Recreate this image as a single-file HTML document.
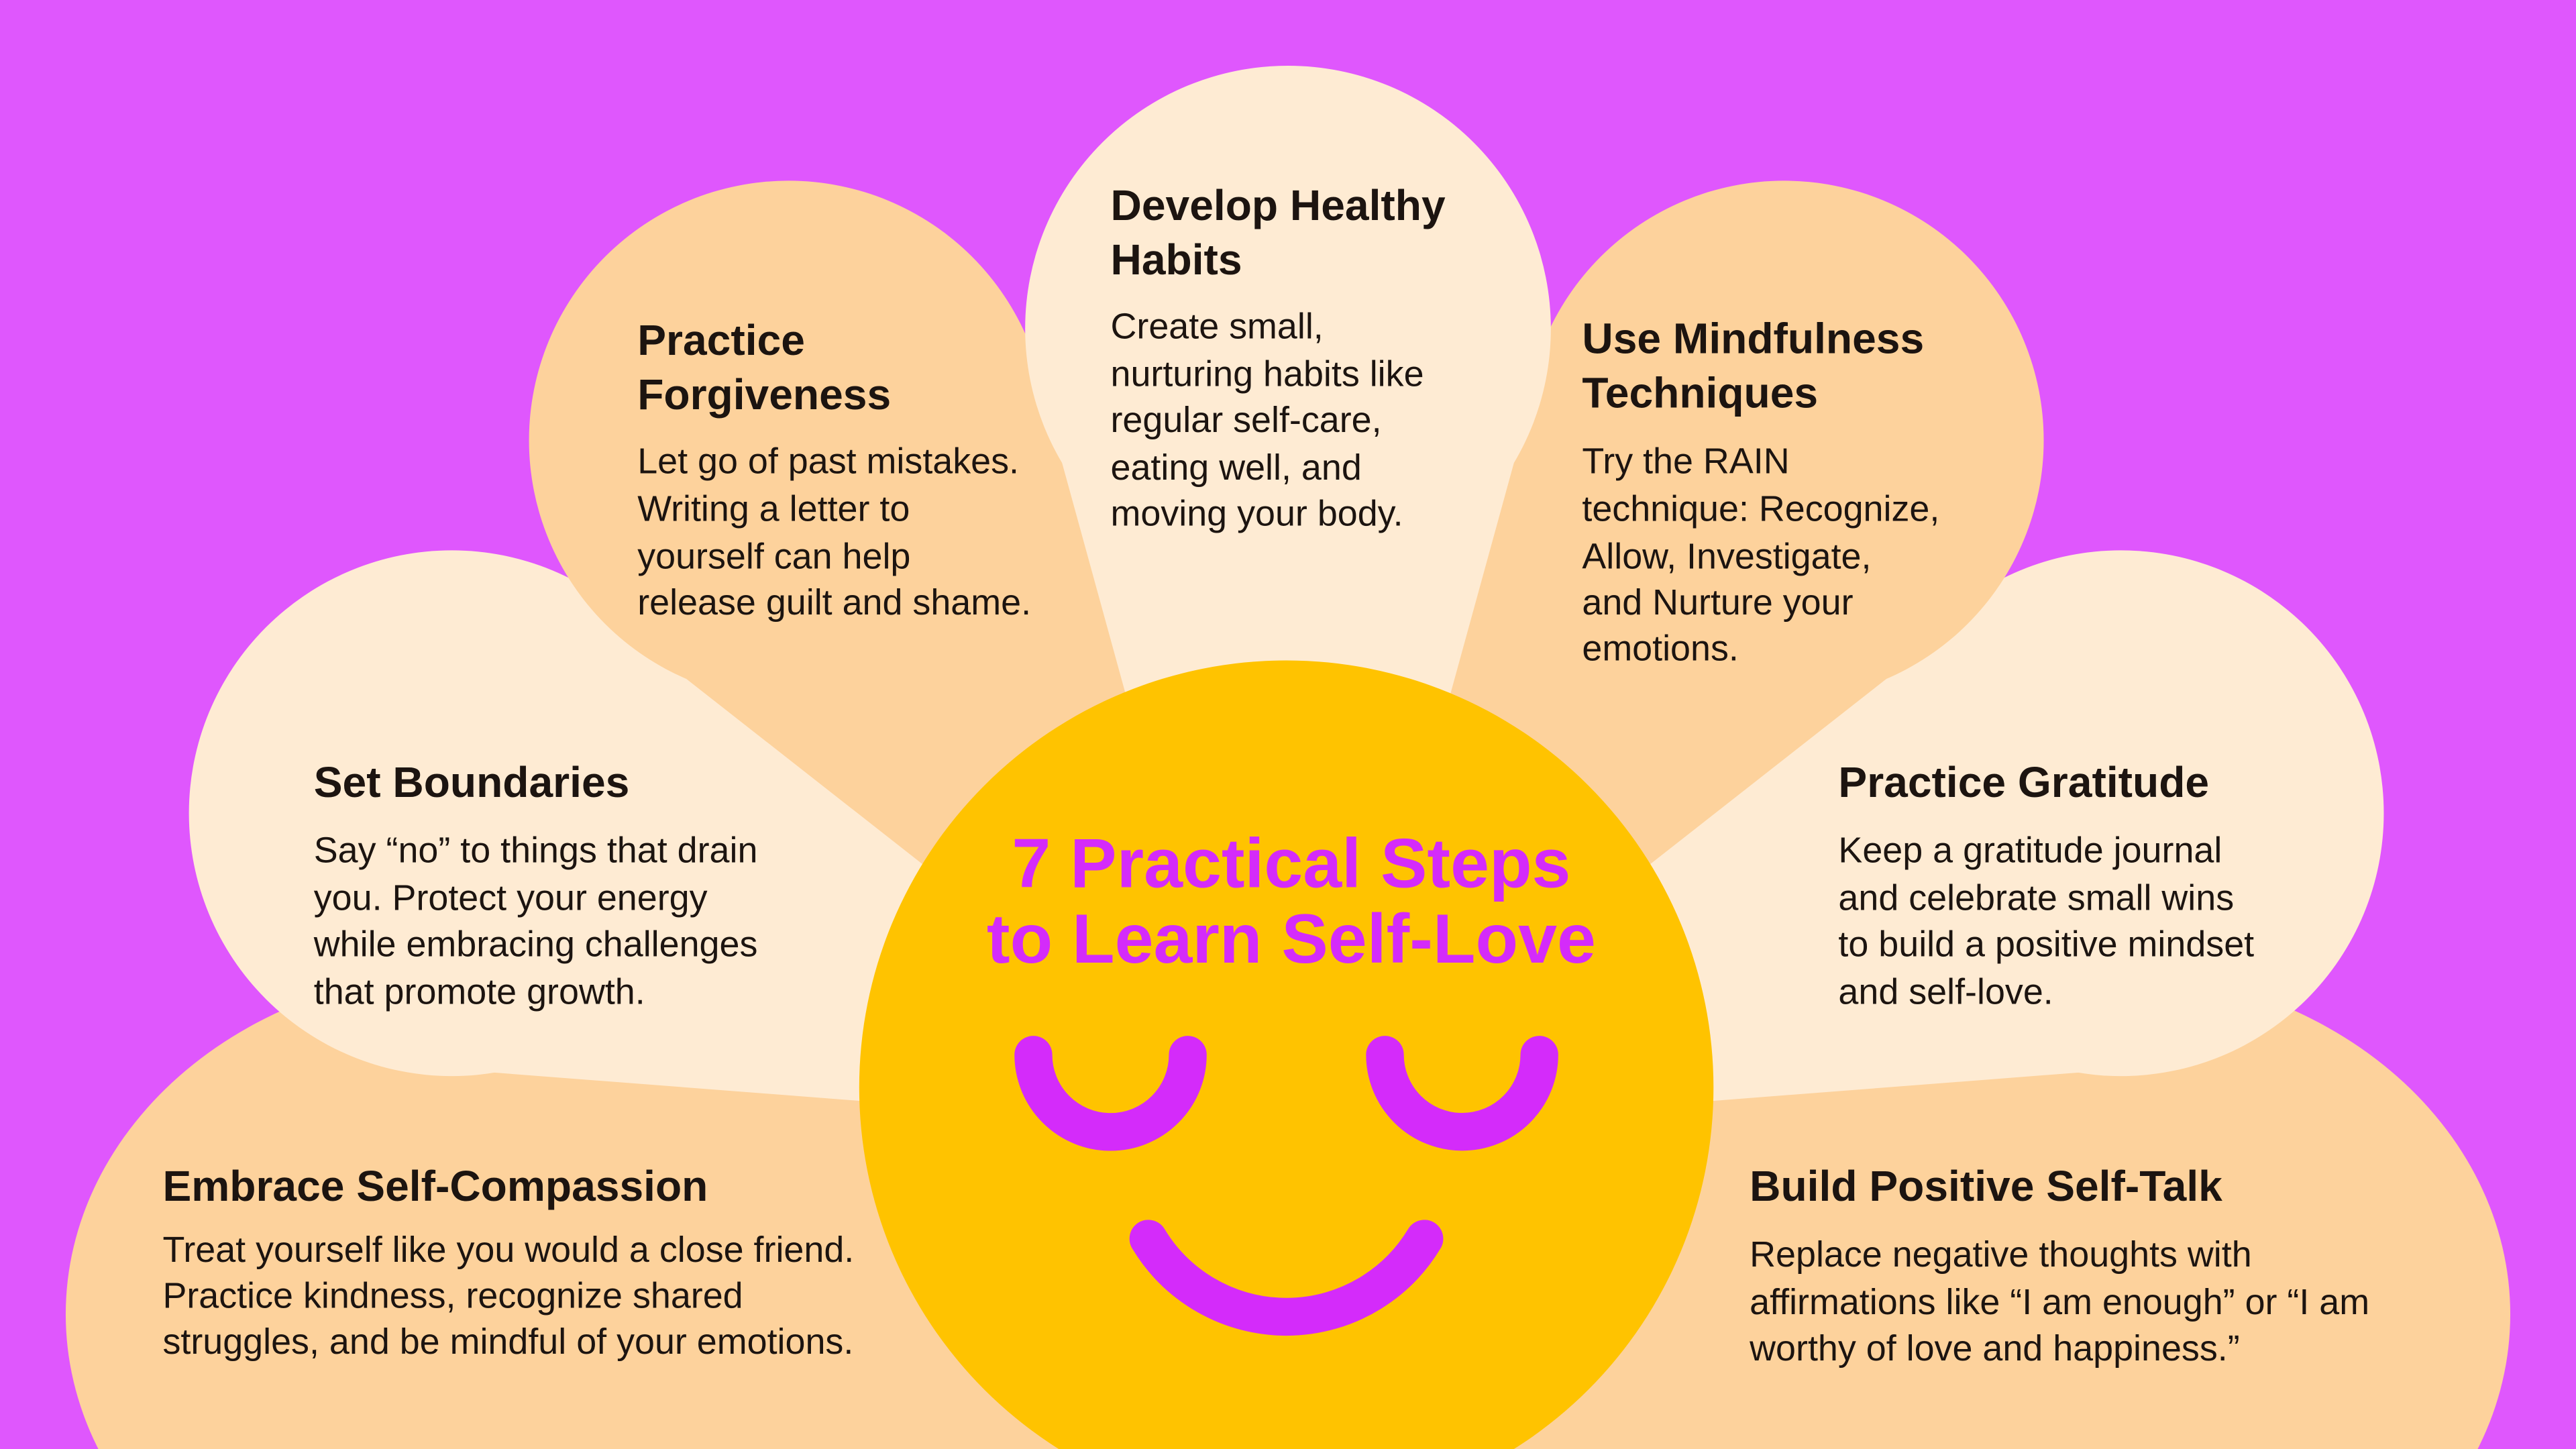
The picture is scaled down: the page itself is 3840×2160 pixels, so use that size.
<!DOCTYPE html>
<html><head><meta charset="utf-8"><style>
html,body{margin:0;padding:0;background:#DF57FD;overflow:hidden;width:3840px;height:2160px;}
svg{display:block;}
text{font-family:"Liberation Sans",sans-serif;fill:#1c1410;}
.h{font-weight:bold;font-size:26.2px;}
.b{font-size:22px;}
.t{font-weight:bold;font-size:42.5px;fill:#D42BFA;}
</style></head><body>
<svg width="3840" height="2160" viewBox="0 0 1568 882" xmlns="http://www.w3.org/2000/svg">
<rect width="1568" height="882" fill="#DF57FD"/>
<g fill="#FDD29C">
<ellipse cx="290" cy="800" rx="250" ry="210"/><polygon points="290,592 900,640 900,900 290,900"/>
<ellipse cx="1278" cy="800" rx="250" ry="210"/><polygon points="1278,592 668,640 668,900 1278,900"/>
</g>
<g fill="#FEEBD3">
<circle cx="275" cy="495" r="160"/><polygon points="325,343 225,647 897,699"/>
<circle cx="1291" cy="495" r="160"/><polygon points="1241,343 1341,647 669,699"/>
</g>
<g fill="#FDD29C">
<circle cx="480" cy="268" r="158"/><polygon points="605,172 355,364 856,757"/>
<circle cx="1086" cy="268" r="158"/><polygon points="961,172 1211,364 710,757"/>
</g>
<g fill="#FEEBD3">
<circle cx="784" cy="200" r="160"/><polygon points="624,200 944,200 784,782"/>
</g>
<circle cx="783" cy="662" r="260" fill="#FFC300"/>
<text class="t" x="786" y="540" text-anchor="middle">7 Practical Steps</text>
<text class="t" x="786" y="586" text-anchor="middle">to Learn Self-Love</text>
<g fill="none" stroke="#D42BFA" stroke-width="23" stroke-linecap="round">
<path d="M629 642 A47 47 0 0 0 723 642"/>
<path d="M843 642 A47 47 0 0 0 937 642"/>
<path d="M699 754 A98 98 0 0 0 867 754"/>
</g>
<text class="h" x="676" y="134">Develop Healthy</text>
<text class="h" x="676" y="167">Habits</text>
<text class="b" x="676" y="206">Create small,</text>
<text class="b" x="676" y="235">nurturing habits like</text>
<text class="b" x="676" y="263">regular self-care,</text>
<text class="b" x="676" y="292">eating well, and</text>
<text class="b" x="676" y="320">moving your body.</text>

<text class="h" x="388" y="216">Practice</text>
<text class="h" x="388" y="249">Forgiveness</text>
<text class="b" x="388" y="288">Let go of past mistakes.</text>
<text class="b" x="388" y="317">Writing a letter to</text>
<text class="b" x="388" y="346">yourself can help</text>
<text class="b" x="388" y="374">release guilt and shame.</text>

<text class="h" x="963" y="215">Use Mindfulness</text>
<text class="h" x="963" y="248">Techniques</text>
<text class="b" x="963" y="288">Try the RAIN</text>
<text class="b" x="963" y="317">technique: Recognize,</text>
<text class="b" x="963" y="346">Allow, Investigate,</text>
<text class="b" x="963" y="374">and Nurture your</text>
<text class="b" x="963" y="402">emotions.</text>

<text class="h" x="191" y="485">Set Boundaries</text>
<text class="b" x="191" y="525">Say “no” to things that drain</text>
<text class="b" x="191" y="554">you. Protect your energy</text>
<text class="b" x="191" y="582">while embracing challenges</text>
<text class="b" x="191" y="611">that promote growth.</text>

<text class="h" x="1119" y="485">Practice Gratitude</text>
<text class="b" x="1119" y="525">Keep a gratitude journal</text>
<text class="b" x="1119" y="554">and celebrate small wins</text>
<text class="b" x="1119" y="582">to build a positive mindset</text>
<text class="b" x="1119" y="611">and self-love.</text>

<text class="h" x="99" y="731">Embrace Self-Compassion</text>
<text class="b" x="99" y="768">Treat yourself like you would a close friend.</text>
<text class="b" x="99" y="796">Practice kindness, recognize shared</text>
<text class="b" x="99" y="824">struggles, and be mindful of your emotions.</text>

<text class="h" x="1065" y="731">Build Positive Self-Talk</text>
<text class="b" x="1065" y="771">Replace negative thoughts with</text>
<text class="b" x="1065" y="800">affirmations like “I am enough” or “I am</text>
<text class="b" x="1065" y="828">worthy of love and happiness.”</text>
</svg>
</body></html>
